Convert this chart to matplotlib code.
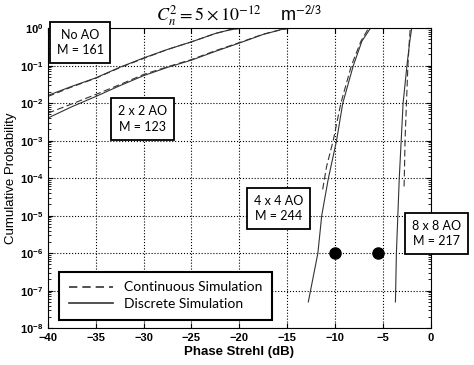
import matplotlib.pyplot as plt
from matplotlib.lines import Line2D

# curve data (x in dB, y cumulative probability)
noao_x = [-40, -37.5, -35, -32.5, -30, -27.5, -25, -22.5, -21, -20, -19]
noao_y = [1.6e-2, 2.8e-2, 4.7e-2, 9e-2, 0.16, 0.27, 0.43, 0.72, 0.9, 0.98, 1.0]
noao_dx = [-40, -37.5, -35, -32.5, -30, -27.5, -25, -22.5, -21, -20, -19]
noao_dy = [1.5e-2, 2.7e-2, 4.6e-2, 8.8e-2, 0.155, 0.27, 0.43, 0.72, 0.9, 0.98, 1.0]

ao2_x = [-40, -37.5, -35, -32.5, -30, -27.5, -25, -22.5, -20, -17.5, -15.5, -14.5]
ao2_y = [4e-3, 8e-3, 1.5e-2, 2.9e-2, 5.4e-2, 9e-2, 0.14, 0.24, 0.4, 0.68, 0.93, 1.0]
ao2_dx = [-40, -37.5, -35, -32.5, -30, -27.5, -25, -22.5, -20, -17.5, -15.5, -14.5]
ao2_dy = [5.4e-3, 9.5e-3, 1.7e-2, 3.1e-2, 5.8e-2, 9.3e-2, 0.145, 0.25, 0.41, 0.69, 0.93, 1.0]

ao4_x = [-12.8, -11.8, -11.4, -10.7, -9.85, -9.2, -8.1, -7.2, -6.3]
ao4_y = [5e-8, 1e-6, 1e-5, 1e-4, 1e-3, 1e-2, 1e-1, 0.45, 1.0]
ao4_dx = [-11.3, -11.1, -10.9, -10.2, -9.4, -8.3, -7.3, -6.5]
ao4_dy = [5e-5, 1e-4, 2e-4, 1e-3, 1e-2, 1e-1, 0.45, 1.0]

ao8_x = [-3.7, -3.6, -3.3, -3.1, -2.9, -2.5, -2.2, -2.0]
ao8_y = [5e-8, 1e-6, 1e-4, 1e-3, 1e-2, 1e-1, 0.45, 1.0]
ao8_dx = [-2.8, -2.75, -2.7, -2.55, -2.4, -2.25, -2.15]
ao8_dy = [6e-5, 2e-4, 1e-3, 1e-2, 1e-1, 0.45, 1.0]

dots_x = [-10, -5.5]
dots_y = [1e-6, 1e-6]

labels = ["No AO\nM = 161", "2 x 2 AO\nM = 123", "4 x 4 AO\nM = 244", "8 x 8 AO\nM = 217"]
xticks = [-40, -35, -30, -25, -20, -15, -10, -5, 0]

plt.rcParams['font.family'] = ['Liberation Sans', 'DejaVu Sans']
plt.rcParams['mathtext.fontset'] = 'stix'

fig = plt.figure(figsize=(4.74, 3.65), dpi=100)
ax = fig.add_axes([0.101, 0.101, 0.808, 0.822])

lw = 0.8
for x, y in [(noao_x, noao_y), (ao2_x, ao2_y), (ao4_x, ao4_y), (ao8_x, ao8_y)]:
    ax.plot(x, y, color='#333333', lw=lw, ls='-')
for x, y in [(noao_dx, noao_dy), (ao2_dx, ao2_dy), (ao4_dx, ao4_dy), (ao8_dx, ao8_dy)]:
    ax.plot(x, y, color='#333333', lw=lw, ls=(0, (6, 3)))
ax.plot(dots_x, dots_y, 'o', color='black', ms=8)

ax.set_yscale('log')
ax.set_xlim(-40, 0)
ax.set_ylim(1e-8, 1)
ax.set_xticks(xticks)
ax.set_yticks([10.0**k for k in range(-8, 1)])
ax.grid(True, which='major', color='black', ls=':', lw=0.8)
ax.tick_params(which='both', direction='in', top=True, right=True, labelsize=8)
for t in ax.get_xticklabels() + ax.get_yticklabels():
    t.set_fontweight('bold')
ax.set_xlabel("Phase Strehl (dB)", fontsize=9.5, fontweight='bold', labelpad=2)
ax.set_ylabel("Cumulative Probability", fontsize=9.5, labelpad=2)
ax.set_title(r"$C_n^2 = 5\times10^{-12}$" + "    m$^{\\mathsf{-2/3}}$",
             fontsize=13, pad=2)

# legend
handles = [Line2D([], [], color='#333333', lw=1.2, ls=(0, (5, 3))),
           Line2D([], [], color='#333333', lw=1.2)]
leg = ax.legend(handles, ["Continuous Simulation", "Discrete Simulation"],
                loc='lower left', bbox_to_anchor=(0.029, 0.027), fontsize=10,
                prop={'family': 'Lato', 'size': 10},
                fancybox=False, framealpha=1, edgecolor='black',
                handlelength=3.2, labelspacing=0.35, borderpad=0.7,
                borderaxespad=0)
leg.get_frame().set_linewidth(1.5)

box = dict(boxstyle='square,pad=0.55', fc='white', ec='black', lw=1.3)
pos = [(0.084, 0.952), (0.248, 0.697), (0.602, 0.398), (1.014, 0.315)]
for lab, (px, py) in zip(labels, pos):
    ax.text(px, py, lab, transform=ax.transAxes, fontsize=9, family='Lato',
            ha='center', va='center', bbox=box, linespacing=1.35,
            clip_on=False, zorder=5)

fig.savefig("out.png", dpi=100)
